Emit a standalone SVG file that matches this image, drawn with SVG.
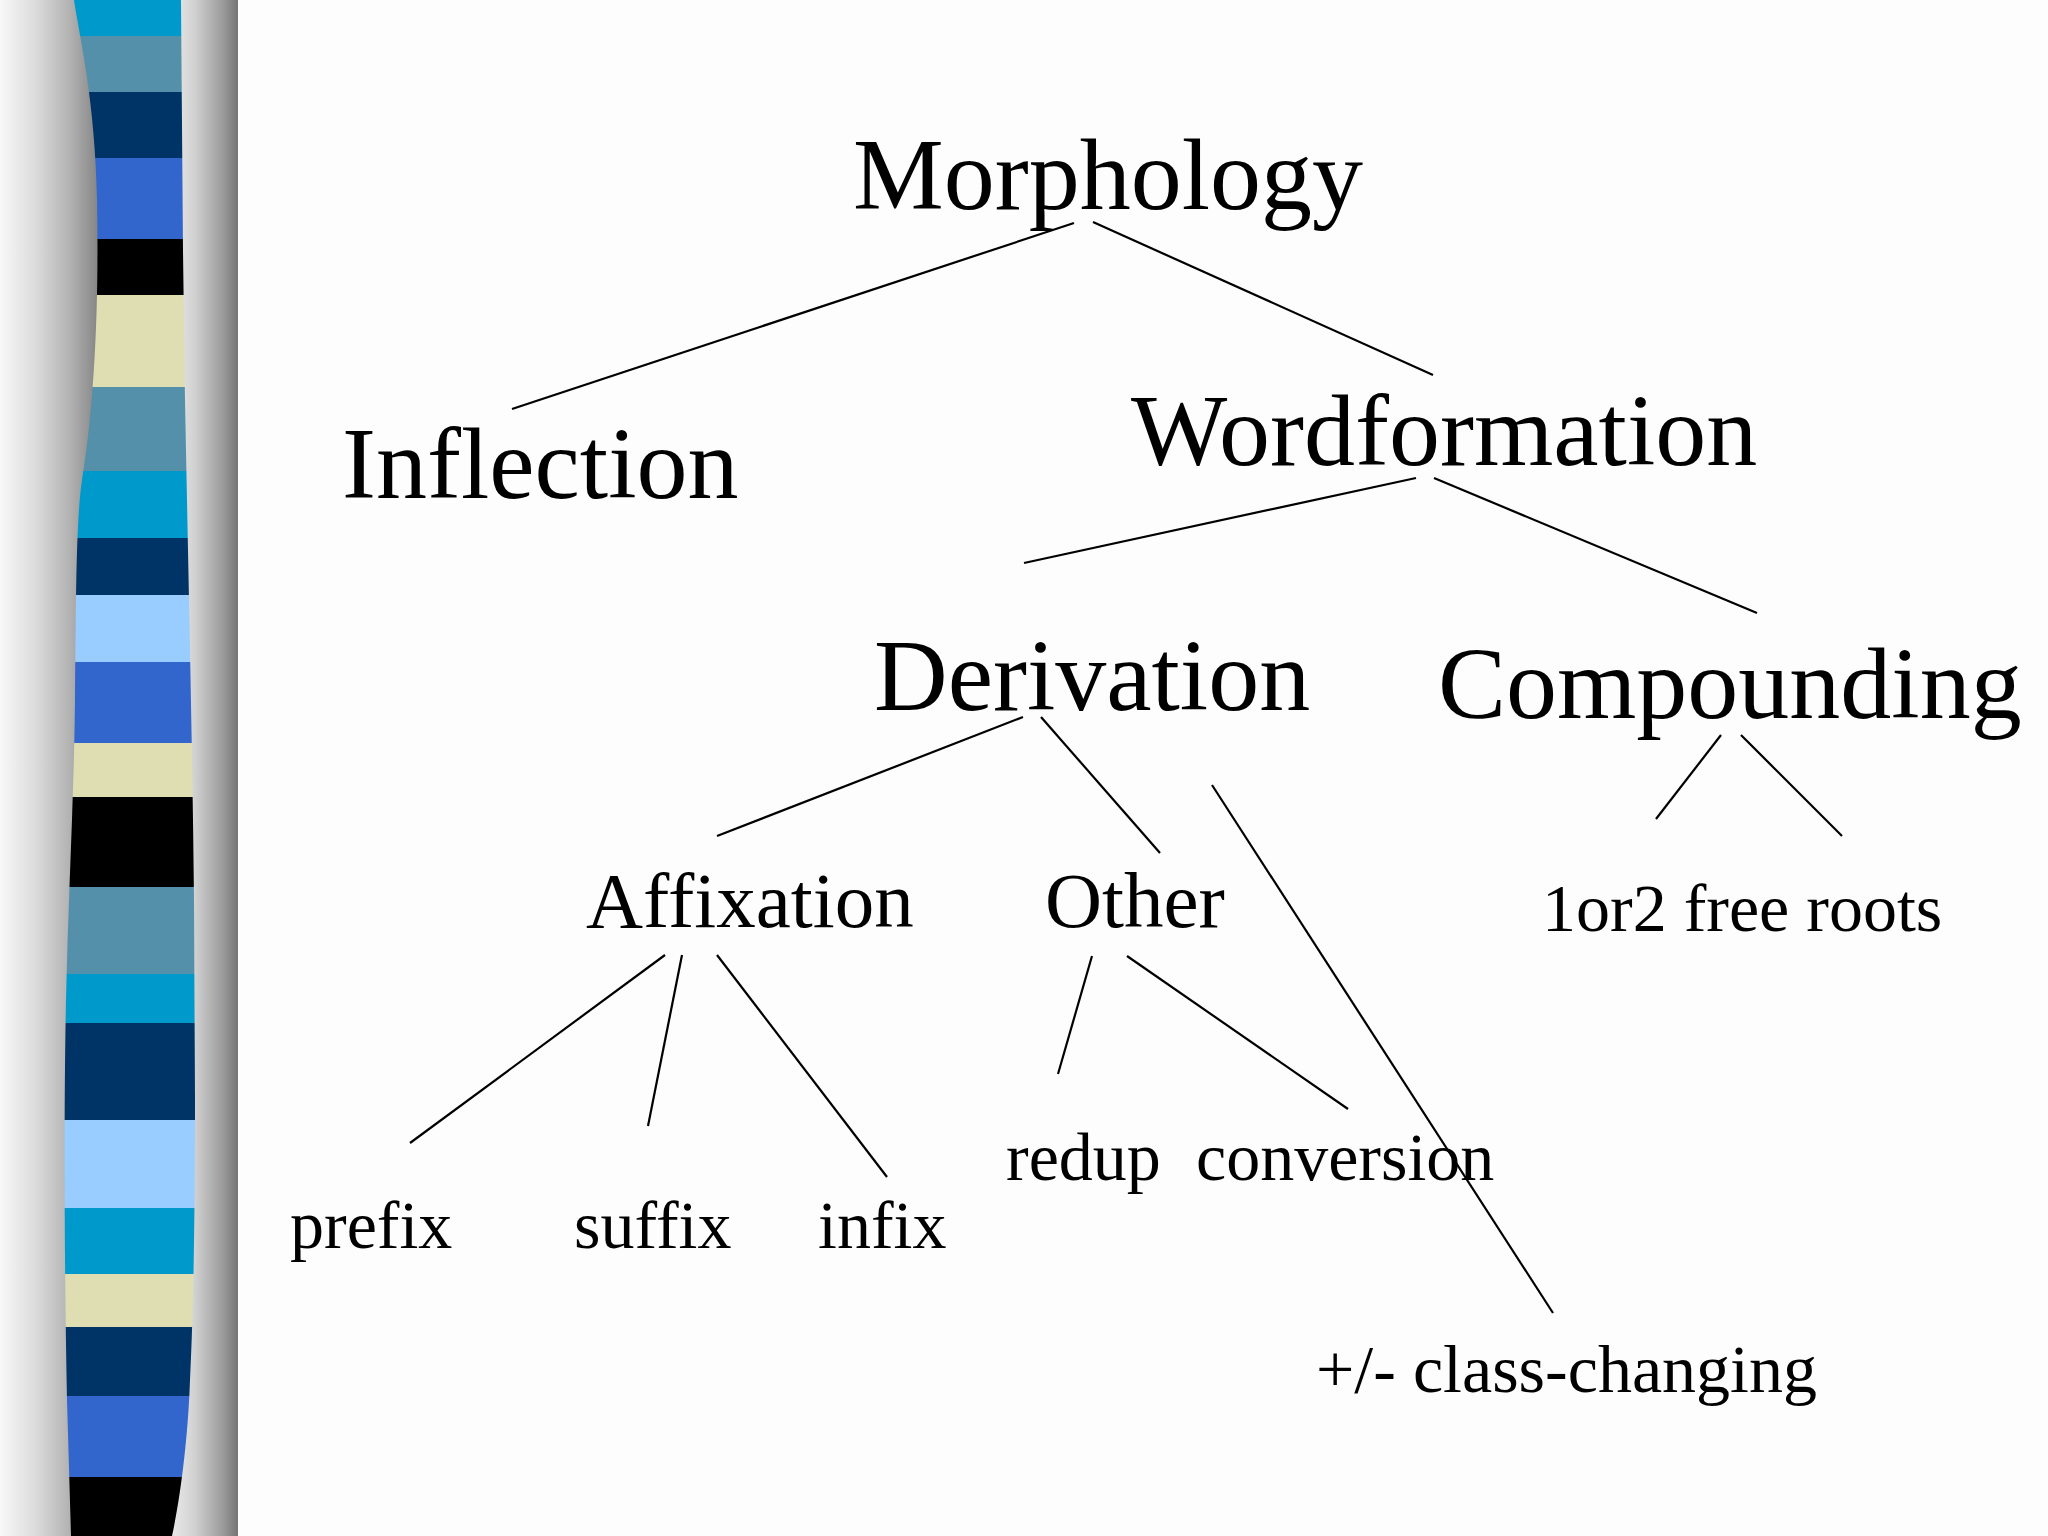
<svg xmlns="http://www.w3.org/2000/svg" width="2048" height="1536" viewBox="0 0 2048 1536">
  <defs>
    <style>
      .lbl { font-family: "Liberation Serif", "Times New Roman", serif; fill: #000; }
      .big { font-size: 102px; }
      .mid { font-size: 79px; }
      .sm { font-size: 68px; }
      .conn line { stroke: #000; stroke-width: 2.2; stroke-linecap: butt; }
    </style>
    <linearGradient id="leftShade" x1="0" y1="0" x2="100" y2="0" gradientUnits="userSpaceOnUse">
      <stop offset="0" stop-color="#F8F8F8"/>
      <stop offset="0.35" stop-color="#DCDCDC"/>
      <stop offset="0.7" stop-color="#B2B2B2"/>
      <stop offset="1" stop-color="#828282"/>
    </linearGradient>
    <linearGradient id="rightShade" x1="165" y1="0" x2="238" y2="0" gradientUnits="userSpaceOnUse">
      <stop offset="0" stop-color="#F0F0F0"/>
      <stop offset="0.4" stop-color="#D2D2D2"/>
      <stop offset="0.8" stop-color="#9A9A9A"/>
      <stop offset="1" stop-color="#747474"/>
    </linearGradient>
    <clipPath id="stripeClip">
      <path d="M74,0 C80,40 95,100 97,200 C99,300 95,400 82,480 C76,520 76,600 75,700 C74,800 68,900 66,1000 C64,1100 64,1250 67,1400 L71,1536 L172,1536 C180,1500 188,1440 190,1380 C194,1300 195,1200 195,1100 L194,900 C193,800 191,700 189,600 L185,400 L183,250 L181,0 Z"/>
    </clipPath>
  </defs>

  <rect x="0" y="0" width="2048" height="1536" fill="#FDFDFE"/>

  <g id="sidebar">
    <rect x="0" y="0" width="238" height="1536" fill="url(#leftShade)"/>
    <rect x="160" y="0" width="78" height="1536" fill="url(#rightShade)"/>
    <g clip-path="url(#stripeClip)">
      <rect x="50" y="0" width="160" height="36" fill="#0099CC"/>
      <rect x="50" y="36" width="160" height="56" fill="#5590AB"/>
      <rect x="50" y="92" width="160" height="66" fill="#003366"/>
      <rect x="50" y="158" width="160" height="81" fill="#3366CC"/>
      <rect x="50" y="239" width="160" height="56" fill="#000000"/>
      <rect x="50" y="295" width="160" height="92" fill="#DEDEB2"/>
      <rect x="50" y="387" width="160" height="84" fill="#5590AB"/>
      <rect x="50" y="471" width="160" height="67" fill="#0099CC"/>
      <rect x="50" y="538" width="160" height="57" fill="#003366"/>
      <rect x="50" y="595" width="160" height="67" fill="#99CCFF"/>
      <rect x="50" y="662" width="160" height="81" fill="#3366CC"/>
      <rect x="50" y="743" width="160" height="54" fill="#DEDEB2"/>
      <rect x="50" y="797" width="160" height="90" fill="#000000"/>
      <rect x="50" y="887" width="160" height="87" fill="#5590AB"/>
      <rect x="50" y="974" width="160" height="49" fill="#0099CC"/>
      <rect x="50" y="1023" width="160" height="97" fill="#003366"/>
      <rect x="50" y="1120" width="160" height="88" fill="#99CCFF"/>
      <rect x="50" y="1208" width="160" height="66" fill="#0099CC"/>
      <rect x="50" y="1274" width="160" height="53" fill="#DEDEB2"/>
      <rect x="50" y="1327" width="160" height="69" fill="#003366"/>
      <rect x="50" y="1396" width="160" height="81" fill="#3366CC"/>
      <rect x="50" y="1477" width="160" height="59" fill="#000000"/>
    </g>
  </g>

  <g id="connectors" class="conn">
    <line x1="1074" y1="223" x2="512" y2="409"/>
    <line x1="1093" y1="222" x2="1433" y2="375"/>
    <line x1="1416" y1="478" x2="1024" y2="563"/>
    <line x1="1434" y1="478" x2="1757" y2="613"/>
    <line x1="1023" y1="717" x2="717" y2="836"/>
    <line x1="1041" y1="717" x2="1160" y2="853"/>
    <line x1="1212" y1="785" x2="1553" y2="1313"/>
    <line x1="1721" y1="735" x2="1656" y2="819"/>
    <line x1="1741" y1="735" x2="1842" y2="836"/>
    <line x1="665" y1="955" x2="410" y2="1143"/>
    <line x1="682" y1="955" x2="648" y2="1126"/>
    <line x1="717" y1="955" x2="887" y2="1177"/>
    <line x1="1092" y1="956" x2="1058" y2="1074"/>
    <line x1="1127" y1="956" x2="1348" y2="1109"/>
  </g>

  <g id="node-morphology"><text class="lbl big" x="853" y="209">Morphology</text></g>
  <g id="node-inflection"><text class="lbl big" x="342" y="498">Inflection</text></g>
  <g id="node-wordformation"><text class="lbl big" x="1131" y="465">Wordformation</text></g>
  <g id="node-derivation"><text class="lbl big" x="874" y="710">Derivation</text></g>
  <g id="node-compounding"><text class="lbl big" x="1438" y="718">Compounding</text></g>
  <g id="node-affixation"><text class="lbl mid" x="586" y="927">Affixation</text></g>
  <g id="node-other"><text class="lbl mid" x="1045" y="927">Other</text></g>
  <g id="node-roots"><text class="lbl sm" x="1542" y="931">1or2 free roots</text></g>
  <g id="node-prefix"><text class="lbl sm" x="290" y="1248">prefix</text></g>
  <g id="node-suffix"><text class="lbl sm" x="574" y="1248">suffix</text></g>
  <g id="node-infix"><text class="lbl sm" x="818" y="1248">infix</text></g>
  <g id="node-redup"><text class="lbl sm" x="1006" y="1180">redup</text></g>
  <g id="node-conversion"><text class="lbl sm" x="1196" y="1180">conversion</text></g>
  <g id="node-classchanging"><text class="lbl sm" x="1316" y="1392">+/- class-changing</text></g>
</svg>
